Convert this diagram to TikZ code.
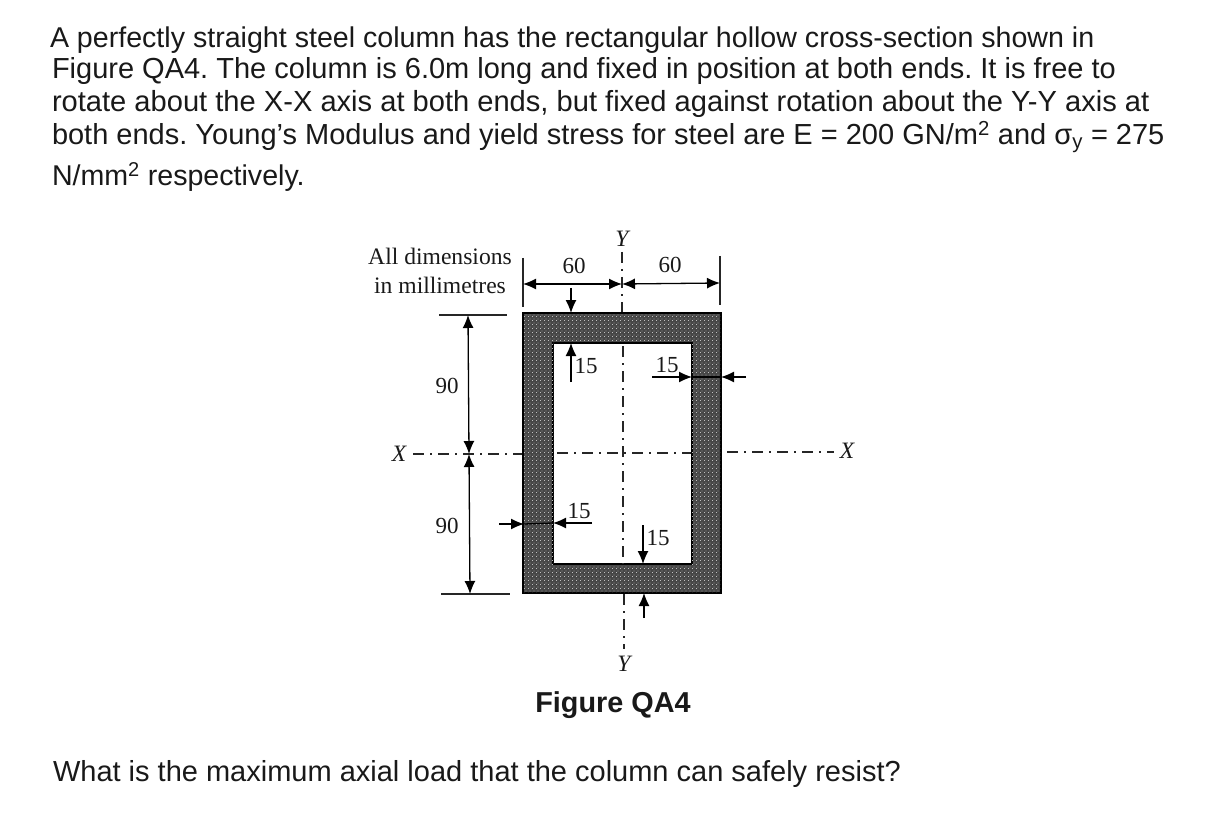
\documentclass[tikz,border=0pt]{standalone}
\usepackage{fontspec}
\setmainfont{Liberation Sans}
\newfontfamily\timesf{Liberation Serif}
\usetikzlibrary{arrows.meta,patterns}
\pgfdeclarepatternformonly{stipple}{\pgfqpoint{0pt}{0pt}}{\pgfqpoint{4pt}{4pt}}{\pgfqpoint{4pt}{4pt}}{%
  \pgfpathrectangle{\pgfqpoint{0pt}{0pt}}{\pgfqpoint{1pt}{1pt}}%
  \pgfpathrectangle{\pgfqpoint{2pt}{2pt}}{\pgfqpoint{1pt}{1pt}}%
  \pgfusepath{fill}}
\frenchspacing
\tikzset{
  body/.style={anchor=base west,inner sep=0pt,outer sep=0pt,font=\fontsize{29}{30}\selectfont,text=black!90},
  lab/.style={inner sep=0pt,outer sep=0pt,font=\timesf\fontsize{23}{24}\selectfont,text=black!90},
  axlab/.style={inner sep=0pt,outer sep=0pt,font=\timesf\itshape\fontsize{23.5}{24}\selectfont,text=black!90},
  dim/.style={line width=1.3pt,draw=black,-{Latex[length=13pt,width=11pt]}},
  dimb/.style={line width=1.3pt,draw=black,{Latex[length=13pt,width=11pt]}-{Latex[length=13pt,width=11pt]}},
  thru/.style={line width=1.3pt,draw=black},
  ext/.style={line width=1.5pt,draw=black!85},
  axisline/.style={line width=1.4pt,draw=black!85,dash pattern=on 11pt off 6pt on 2pt off 6pt},
  sect/.style={fill=black!72,draw=black,line width=2pt,even odd rule},
  sectdots/.style={pattern=stipple,pattern color=black!25,even odd rule},
}
\begin{document}
\begin{tikzpicture}[x=1pt,y=-1pt]
\useasboundingbox[fill=white] (0,0) rectangle (1208,829);
% question text
\node[body,font=\fontsize{28.6}{30}\selectfont] (l1) at (50,48) {A perfectly straight steel column has the rectangular hollow cross-section shown in};
\node[body] (l2) at (52,79) {Figure QA4. The column is 6.0m long and fixed in position at both ends. It is free to};
\node[body,font=\fontsize{29.1}{30}\selectfont] (l3) at (52,112) {rotate about the X-X axis at both ends, but fixed against rotation about the Y-Y axis at};
\node[body] (l4) at (52,145) {both ends. Young's Modulus and yield stress for steel are E = 200 GN/m\textsuperscript{2} and σ\textsubscript{y} = 275};
\node[body,font=\fontsize{28.6}{30}\selectfont] (l5) at (52,186) {N/mm\textsuperscript{2} respectively.};
\node[body] (q) at (53,781) {What is the maximum axial load that the column can safely resist?};
\node[body,anchor=center,font=\bfseries\fontsize{28.8}{30}\selectfont] (fig) at (613,705) {Figure QA4};
% section
\path[sect] (523,313) rectangle (721,593) (553,343) rectangle (692,564);
\path[sectdots] (524,314) rectangle (720,592) (554,342) rectangle (691,565);
% axes
\coordinate (yt) at (622,252); \coordinate (ytb) at (622,312);
\coordinate (yi) at (623,346); \coordinate (yib) at (623,564);
\coordinate (yb) at (624,594); \coordinate (ybb) at (624,649);
\draw[axisline] (yt) -- (ytb);
\draw[axisline] (yi) -- (yib);
\draw[axisline] (yb) -- (ybb);
\coordinate (xl) at (413,454); \coordinate (xlb) at (522,454);
\coordinate (xi) at (557,453); \coordinate (xib) at (691,453);
\coordinate (xr) at (727,452); \coordinate (xrb) at (834,452);
\draw[axisline] (xl) -- (xlb);
\draw[axisline] (xi) -- (xib);
\draw[axisline] (xr) -- (xrb);
\node[axlab] (Yt) at (622,239) {Y};
\node[axlab] (Yb) at (624,664) {Y};
\node[axlab] (Xl) at (399,454) {X};
\node[axlab] (Xr) at (847,451) {X};
% note
\node[lab,font=\timesf\fontsize{23.6}{24}\selectfont] (n1) at (440,256) {All dimensions};
\node[lab,font=\timesf\fontsize{23.6}{24}\selectfont] (n2) at (440,285) {in millimetres};
% top dimensions
\coordinate (e1a) at (523,258); \coordinate (e1b) at (523,307);
\coordinate (e2a) at (720,256); \coordinate (e2b) at (720,305);
\draw[ext] (e1a) -- (e1b);
\draw[ext] (e2a) -- (e2b);
\coordinate (d1) at (523,284); \coordinate (d2) at (622,284); \coordinate (d3) at (720,283);
\draw[dimb] (d1) -- (d2);
\draw[dimb] (d2) -- (d3);
\node[lab] (w1) at (574,266) {60};
\node[lab] (w2) at (670,265) {60};
% left dimensions
\coordinate (h1a) at (439,315); \coordinate (h1b) at (507,315);
\coordinate (h2a) at (441,594); \coordinate (h2b) at (510,594);
\draw[ext] (h1a) -- (h1b);
\draw[ext] (h2a) -- (h2b);
\coordinate (v1) at (468,315); \coordinate (v2) at (469,454); \coordinate (v3) at (470,594);
\draw[dimb] (v1) -- (v2);
\draw[dimb] (v2) -- (v3);
\node[lab] (h90a) at (447,386) {90};
\node[lab] (h90b) at (447,526) {90};
% thickness, top
\coordinate (ta) at (571,288); \coordinate (tb) at (571,313);
\coordinate (tc) at (571,382); \coordinate (td) at (571,343);
\draw[dim] (ta) -- (tb);
\draw[dim] (tc) -- (td);
\node[lab] (t15) at (586,366) {15};
% thickness, right
\coordinate (ra) at (652,377); \coordinate (rb) at (692,377);
\coordinate (rc) at (746,377); \coordinate (rd) at (721,377);
\draw[dim] (ra) -- (rb);
\draw[dim] (rc) -- (rd);
\draw[thru] (rb) -- (rd);
\node[lab] (r15) at (667,365) {15};
% thickness, left
\coordinate (la) at (499,524); \coordinate (lb) at (524,524);
\coordinate (lc) at (592,523); \coordinate (ld) at (553,523);
\draw[dim] (la) -- (lb);
\draw[dim] (lc) -- (ld);
\draw[thru] (lb) -- (ld);
\node[lab] (l15) at (579,511) {15};
% thickness, bottom
\coordinate (ba) at (643,525); \coordinate (bb) at (643,564);
\coordinate (bc) at (644,618); \coordinate (bd) at (644,593);
\draw[dim] (ba) -- (bb);
\draw[dim] (bc) -- (bd);
\node[lab] (b15) at (658,538) {15};
\end{tikzpicture}
\end{document}
